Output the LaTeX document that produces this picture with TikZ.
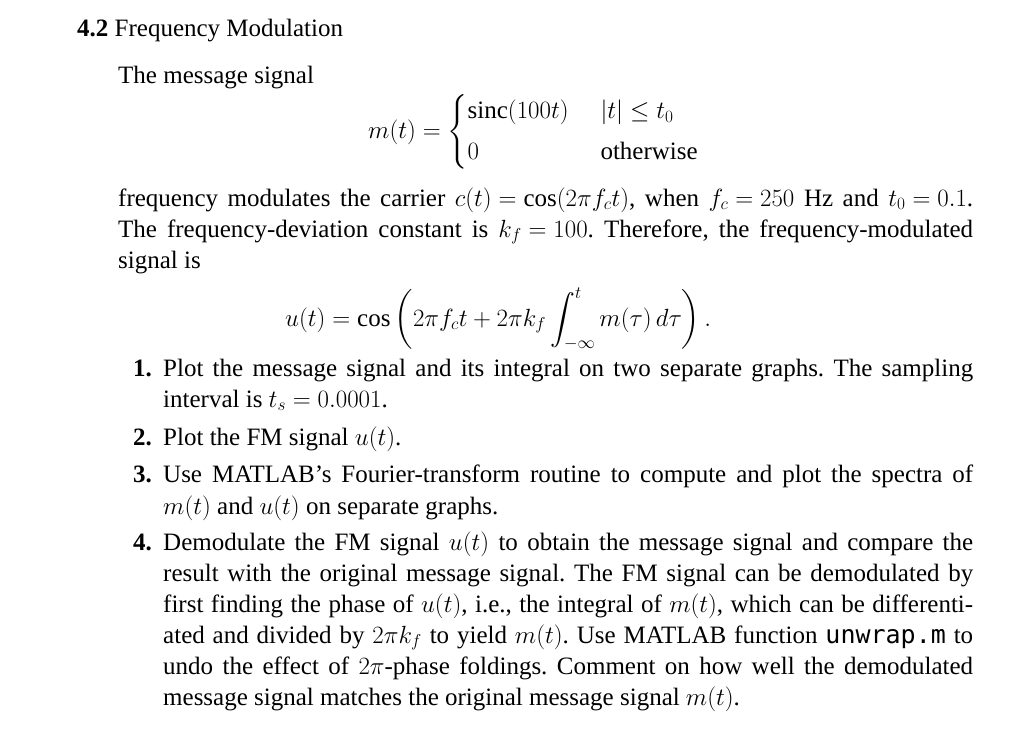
\documentclass[tikz,border=0pt]{standalone}
\usepackage{amsmath}
\usepackage{fontspec}
\setmainfont{Liberation Serif}
\newfontfamily\monof{DejaVu Sans Mono}
\frenchspacing
\newcommand{\jl}[2]{\hbox to #1{\spaceskip=0.25em plus 1fil minus 0.1em\relax #2}}
\tikzset{tl/.style={anchor=base west,inner sep=0pt,font=\fontsize{25}{31}\selectfont}}
\begin{document}
\begin{tikzpicture}[x=1pt,y=-1pt]
\useasboundingbox[fill=white] (0,0) rectangle (1033,731);
\node[tl] (h) at (77,36) {\textbf{4.2} Frequency Modulation};
\node[tl] (p1) at (118,83) {The message signal};
\node[tl] (e1) at (368,138) {$m(t)=\begin{cases}\mathrm{sinc}(100t)\; & |t|\le t_0\\[4pt] 0 & \text{otherwise}\end{cases}$};
\node[tl] (p2) at (118,206) {\jl{855pt}{frequency modulates the carrier $c(t)=\cos(2\pi f_c t)$, when $f_c=250$ Hz and $t_0=0.1$.}};
\node[tl] (p3) at (118,237) {\jl{855pt}{The frequency-deviation constant is $k_f=100$. Therefore, the frequency-modulated}};
\node[tl] (p4) at (118,268) {signal is};
\node[tl] (e2) at (285,326) {$\displaystyle u(t)=\cos\left(2\pi f_c t+2\pi k_f\int_{-\infty}^{t} m(\tau)\,d\tau\right).$};
\node[tl] (n1) at (133,376) {\textbf{1.}};
\node[tl] (a1) at (163,376) {\jl{810pt}{Plot the message signal and its integral on two separate graphs. The sampling}};
\node[tl] (a2) at (163,407) {interval is $t_s=0.0001$.};
\node[tl] (n2) at (133,445) {\textbf{2.}};
\node[tl] (b1) at (163,445) {Plot the FM signal $u(t)$.};
\node[tl] (n3) at (133,482) {\textbf{3.}};
\node[tl] (c1) at (163,482) {\jl{810pt}{Use MATLAB's Fourier-transform routine to compute and plot the spectra of}};
\node[tl] (c2) at (163,514) {$m(t)$ and $u(t)$ on separate graphs.};
\node[tl] (n4) at (133,550) {\textbf{4.}};
\node[tl] (d1) at (163,550) {\jl{810pt}{Demodulate the FM signal $u(t)$ to obtain the message signal and compare the}};
\node[tl] (d2) at (163,581) {\jl{810pt}{result with the original message signal. The FM signal can be demodulated by}};
\node[tl] (d3) at (163,612) {\jl{810pt}{first finding the phase of $u(t)$, i.e., the integral of $m(t)$, which can be differenti-}};
\node[tl] (d4) at (163,643) {\jl{810pt}{ated and divided by $2\pi k_f$ to yield $m(t)$. Use MATLAB function {\monof unwrap.m} to}};
\node[tl] (d5) at (163,674) {\jl{810pt}{undo the effect of $2\pi$-phase foldings. Comment on how well the demodulated}};
\node[tl] (d6) at (163,705) {message signal matches the original message signal $m(t)$.};
\end{tikzpicture}
\end{document}
